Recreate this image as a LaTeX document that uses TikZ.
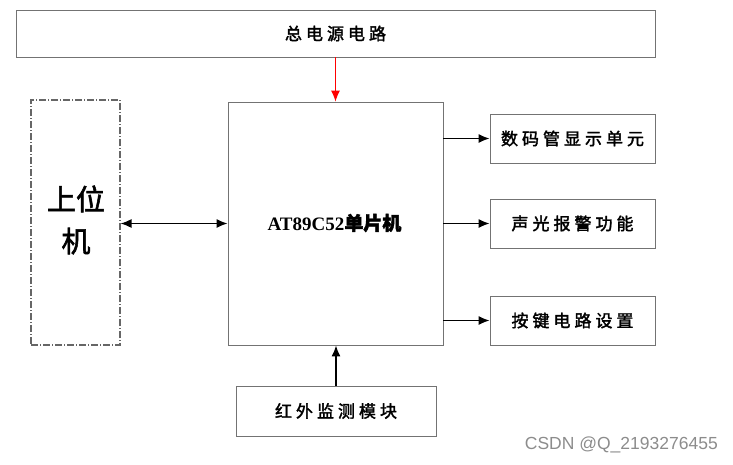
\documentclass[tikz,border=0pt]{standalone}
\usepackage{fontspec}
\setmainfont{Liberation Serif}
\newfontfamily\cjk{Noto Sans CJK SC}
\newfontfamily\cjkb[FakeBold=2]{Noto Sans CJK SC}
\newfontfamily\wm{Liberation Sans}
\usetikzlibrary{arrows.meta}
\newcommand{\cgap}{\hspace{4pt}}
\tikzset{
  box/.style={draw=black!55, line width=0.9pt, fill=white, inner sep=0pt, font=\cjkb\fontsize{17}{19}\selectfont},
  arr/.style={line width=1.3pt, -{Latex[length=11pt,width=9pt]}},
}
\begin{document}
\begin{tikzpicture}[x=1pt,y=-1pt]
\useasboundingbox (0,0) rectangle (733,464);
\node[box, minimum width=639pt, minimum height=47pt] (power) at (335.5,33.5) {总\cgap 电\cgap 源\cgap 电\cgap 路};
\node[box, minimum width=215pt, minimum height=243pt] (mcu) at (335.5,223.5) {};
\node[font=\bfseries\fontsize{19}{20}\selectfont, inner sep=0pt] (mcutext) at (334.5,223) {AT89C52{\cjkb 单片机}};
\node[draw=black!60, line width=1.1pt, dash pattern=on 7pt off 2pt on 1pt off 2pt, minimum width=89pt, minimum height=245pt, inner sep=0pt] (pc) at (75.5,222.5) {};
\node[align=center, inner sep=0pt, font=\cjkb\fontsize{29}{42}\selectfont] (pctext) at (76,220) {上位\\机};
\node[box, minimum width=165pt, minimum height=49pt] (disp) at (572.5,138.5) {数\cgap 码\cgap 管\cgap 显\cgap 示\cgap 单\cgap 元};
\node[box, minimum width=165pt, minimum height=49pt] (alarm) at (572.5,223.5) {声\cgap 光\cgap 报\cgap 警\cgap 功\cgap 能};
\node[box, minimum width=165pt, minimum height=49pt] (key) at (572.5,320.5) {按\cgap 键\cgap 电\cgap 路\cgap 设\cgap 置};
\node[box, minimum width=200pt, minimum height=50pt] (ir) at (336,411) {红\cgap 外\cgap 监\cgap 测\cgap 模\cgap 块};
\draw[arr, draw=red, fill=red, line width=1pt] (power.south) -- (power.south |- mcu.north);
\draw[line width=1.3pt, {Latex[length=11pt,width=9pt]}-{Latex[length=11pt,width=9pt]}] (pc.east |- mcu.center) -- (mcu.west);
\draw[arr] (mcu.east |- disp.west) -- (disp.west);
\draw[arr] (mcu.east |- alarm.west) -- (alarm.west);
\draw[arr] (mcu.east |- key.west) -- (key.west);
\draw[arr] (ir.north) -- (ir.north |- mcu.south);
\node[font=\wm\fontsize{17.5}{19}\selectfont, text=black!45, anchor=east, inner sep=0pt] (mark) at (718,445) {CSDN @Q\_2193276455};
\end{tikzpicture}
\end{document}
